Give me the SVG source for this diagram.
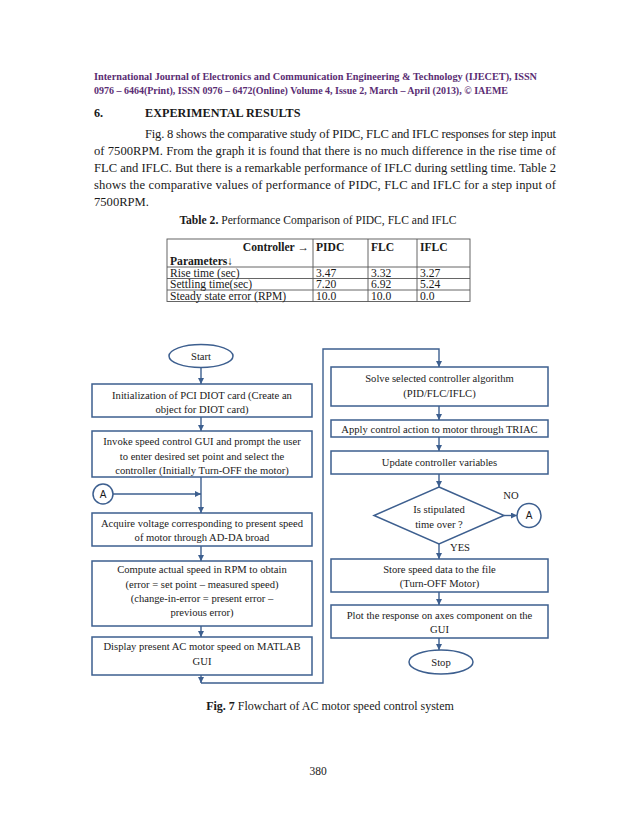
<svg xmlns="http://www.w3.org/2000/svg" width="638" height="826" viewBox="0 0 638 826">
<defs>
<marker id="ah" viewBox="0 0 10 10" refX="10" refY="5" markerWidth="6" markerHeight="6" orient="auto" markerUnits="userSpaceOnUse">
<path d="M0,0 L10,5 L0,10 z" fill="#3d5f8f"/>
</marker>
<style>
text{font-family:"Liberation Serif","Times New Roman",serif;fill:#1a1a1a}
.hdr{font-size:10.3px;font-weight:bold;fill:#5a2d73}
.h1{font-size:12.2px;font-weight:bold}
.p{font-size:12.6px}
.tb{font-size:11.6px}
.b{font-weight:bold}
.fc{font-size:10.6px;text-anchor:middle}
.box{fill:#fff;stroke:#3d5f8f;stroke-width:1.5}
.con{fill:none;stroke:#3d5f8f;stroke-width:1.4}
.cell{fill:none;stroke:#555;stroke-width:0.9}
.lbl{font-family:"Liberation Sans",Arial,sans-serif;font-size:10px;text-anchor:middle}
</style>
</defs>
<rect width="638" height="826" fill="#fff"/>

<g id="header">
<text class="hdr" x="94" y="80" textLength="443" lengthAdjust="spacingAndGlyphs">International Journal of Electronics and Communication Engineering &amp; Technology (IJECET), ISSN</text>
<text class="hdr" x="94" y="94" textLength="414" lengthAdjust="spacingAndGlyphs">0976 – 6464(Print), ISSN 0976 – 6472(Online) Volume 4, Issue 2, March – April (2013), © IAEME</text>
</g>

<g id="section">
<text class="h1" x="94" y="117">6.</text>
<text class="h1" x="145" y="117">EXPERIMENTAL RESULTS</text>
<text class="p" x="145" y="138" textLength="411" lengthAdjust="spacing">Fig. 8 shows the comparative study of PIDC, FLC and IFLC responses for step input</text>
<text class="p" x="94" y="155" textLength="462" lengthAdjust="spacing">of 7500RPM. From the graph it is found that there is no much difference in the rise time of</text>
<text class="p" x="94" y="172" textLength="462" lengthAdjust="spacing">FLC and IFLC. But there is a remarkable performance of IFLC during settling time. Table 2</text>
<text class="p" x="94" y="189" textLength="462" lengthAdjust="spacing">shows the comparative values of performance of PIDC, FLC and IFLC for a step input of</text>
<text class="p" x="94" y="206">7500RPM.</text>
</g>

<g id="table">
<text class="tb" x="318" y="224" text-anchor="middle"><tspan class="b">Table 2.</tspan> Performance Comparison of PIDC, FLC and IFLC</text>
<rect class="cell" x="167" y="239" width="303" height="62.5"/>
<line class="cell" x1="167" y1="267" x2="470" y2="267"/>
<line class="cell" x1="167" y1="278.5" x2="470" y2="278.5"/>
<line class="cell" x1="167" y1="290" x2="470" y2="290"/>
<line class="cell" x1="313" y1="239" x2="313" y2="301.5"/>
<line class="cell" x1="368" y1="239" x2="368" y2="301.5"/>
<line class="cell" x1="417" y1="239" x2="417" y2="301.5"/>
<text class="tb b" x="309" y="251" text-anchor="end">Controller →</text>
<text class="tb b" x="170" y="265">Parameters↓</text>
<text class="tb b" x="316" y="251">PIDC</text>
<text class="tb b" x="371" y="251">FLC</text>
<text class="tb b" x="420" y="251">IFLC</text>
<text class="tb" x="170" y="276.5">Rise time (sec)</text>
<text class="tb" x="316" y="276.5">3.47</text>
<text class="tb" x="371" y="276.5">3.32</text>
<text class="tb" x="420" y="276.5">3.27</text>
<text class="tb" x="170" y="288">Settling time(sec)</text>
<text class="tb" x="316" y="288">7.20</text>
<text class="tb" x="371" y="288">6.92</text>
<text class="tb" x="420" y="288">5.24</text>
<text class="tb" x="170" y="299.5">Steady state error (RPM)</text>
<text class="tb" x="316" y="299.5">10.0</text>
<text class="tb" x="371" y="299.5">10.0</text>
<text class="tb" x="420" y="299.5">0.0</text>
</g>

<g id="connectors">
<line class="con" x1="201" y1="368" x2="201" y2="384" marker-end="url(#ah)"/>
<line class="con" x1="201" y1="417" x2="201" y2="431" marker-end="url(#ah)"/>
<line class="con" x1="201" y1="477" x2="201" y2="513" marker-end="url(#ah)"/>
<line class="con" x1="113" y1="494" x2="201" y2="494" marker-end="url(#ah)"/>
<line class="con" x1="201" y1="546" x2="201" y2="561" marker-end="url(#ah)"/>
<line class="con" x1="201" y1="626" x2="201" y2="637" marker-end="url(#ah)"/>
<line class="con" x1="201" y1="675" x2="201" y2="683" marker-end="url(#ah)"/>
<path class="con" d="M201,683 H323 V349 H439 V367" marker-end="url(#ah)"/>
<line class="con" x1="439" y1="406" x2="439" y2="420" marker-end="url(#ah)"/>
<line class="con" x1="439" y1="437" x2="439" y2="451" marker-end="url(#ah)"/>
<line class="con" x1="439" y1="474" x2="439" y2="487" marker-end="url(#ah)"/>
<line class="con" x1="504" y1="515.5" x2="517" y2="515.5" marker-end="url(#ah)"/>
<line class="con" x1="439" y1="544" x2="439" y2="559" marker-end="url(#ah)"/>
<line class="con" x1="439" y1="592" x2="439" y2="605" marker-end="url(#ah)"/>
<line class="con" x1="439" y1="638" x2="439" y2="650" marker-end="url(#ah)"/>
</g>

<g id="start">
<ellipse class="box" cx="201" cy="356" rx="32" ry="11.5"/>
<text class="fc" x="201" y="360">Start</text>
</g>
<g id="init">
<rect class="box" x="92" y="384" width="220" height="33"/>
<text class="fc" x="202" y="398.5">Initialization of PCI DIOT card (Create an</text>
<text class="fc" x="202" y="412.5">object for DIOT card)</text>
</g>
<g id="invoke">
<rect class="box" x="92" y="431" width="220" height="46"/>
<text class="fc" x="202" y="445">Invoke speed control GUI and prompt the user</text>
<text class="fc" x="202" y="459.5">to enter desired set point and select the</text>
<text class="fc" x="202" y="474">controller (Initially Turn-OFF the motor)</text>
</g>
<g id="connA1">
<circle class="box" cx="103" cy="494" r="10"/>
<text class="lbl" x="103" y="497.5">A</text>
</g>
<g id="acquire">
<rect class="box" x="92" y="513" width="220" height="33"/>
<text class="fc" x="202" y="527">Acquire voltage corresponding to present speed</text>
<text class="fc" x="202" y="541">of motor through AD-DA broad</text>
</g>
<g id="compute">
<rect class="box" x="92" y="561" width="220" height="65"/>
<text class="fc" x="202" y="573">Compute actual speed in RPM to obtain</text>
<text class="fc" x="202" y="587.5">(error = set point – measured speed)</text>
<text class="fc" x="202" y="601.5">(change-in-error = present error –</text>
<text class="fc" x="202" y="615.5">previous error)</text>
</g>
<g id="display">
<rect class="box" x="92" y="637" width="220" height="38"/>
<text class="fc" x="202" y="650">Display present AC motor speed on MATLAB</text>
<text class="fc" x="202" y="665">GUI</text>
</g>
<g id="solve">
<rect class="box" x="331" y="367" width="217" height="39"/>
<text class="fc" x="439.5" y="381.5">Solve selected controller algorithm</text>
<text class="fc" x="439.5" y="396.5">(PID/FLC/IFLC)</text>
</g>
<g id="apply">
<rect class="box" x="331" y="420" width="217" height="17"/>
<text class="fc" x="439.5" y="433">Apply control action to motor through TRIAC</text>
</g>
<g id="update">
<rect class="box" x="331" y="451" width="217" height="23"/>
<text class="fc" x="439.5" y="466">Update controller variables</text>
</g>
<g id="decision">
<polygon class="box" points="439,487 504,515.5 439,544 374,515.5"/>
<text class="fc" x="439" y="513">Is stipulated</text>
<text class="fc" x="439" y="528">time over ?</text>
<text class="fc" x="511" y="499">NO</text>
<text class="fc" x="460" y="551">YES</text>
</g>
<g id="connA2">
<circle class="box" cx="529" cy="515.5" r="12"/>
<text class="lbl" x="529" y="519">A</text>
</g>
<g id="store">
<rect class="box" x="331" y="559" width="217" height="33"/>
<text class="fc" x="439.5" y="572.5">Store speed data to the file</text>
<text class="fc" x="439.5" y="587">(Turn-OFF Motor)</text>
</g>
<g id="plot">
<rect class="box" x="331" y="605" width="217" height="33"/>
<text class="fc" x="439.5" y="618.5">Plot the response on axes component on the</text>
<text class="fc" x="439.5" y="633">GUI</text>
</g>
<g id="stop">
<ellipse class="box" cx="441" cy="662" rx="32" ry="12"/>
<text class="fc" x="441" y="666">Stop</text>
</g>

<g id="caption">
<text x="330" y="710" text-anchor="middle" font-size="12"><tspan class="b">Fig. 7</tspan> Flowchart of AC motor speed control system</text>
<text x="318" y="775" text-anchor="middle" font-size="11.5">380</text>
</g>
</svg>
